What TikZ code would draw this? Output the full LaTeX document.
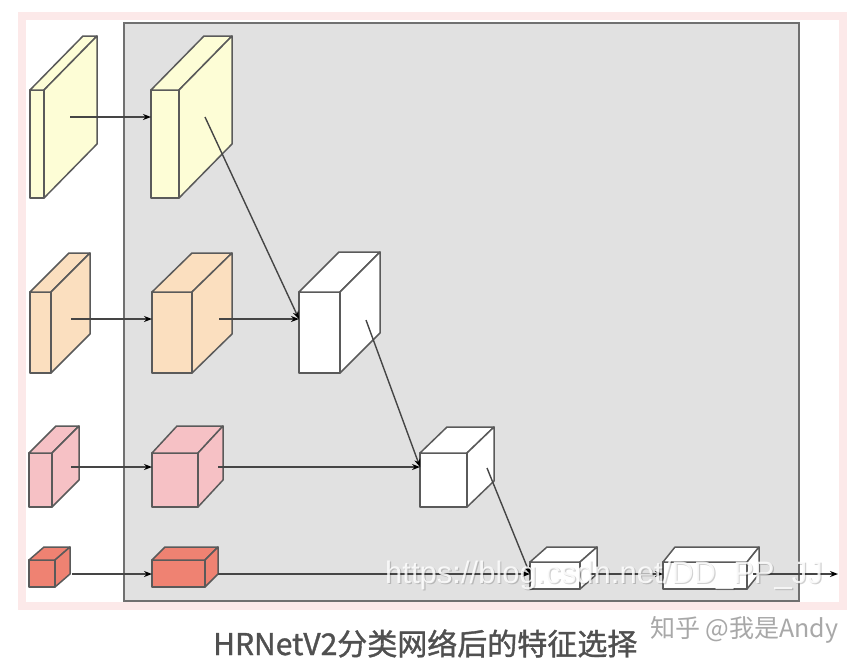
\documentclass[tikz,border=0pt]{standalone}
\usepackage{fontspec}
\usetikzlibrary{arrows.meta}
\newfontfamily\cjkfont{Noto Sans CJK SC}
\newfontfamily\cjkbold[FakeBold=1.2]{Noto Sans CJK SC}
\newfontfamily\wmfont{Liberation Sans}
\definecolor{cyel}{HTML}{FDFDD6}
\definecolor{corg}{HTML}{FBDFBF}
\definecolor{cpnk}{HTML}{F6C1C5}
\definecolor{cred}{HTML}{EF8272}
\definecolor{bggray}{HTML}{E1E1E1}
\definecolor{bgline}{HTML}{707070}
\definecolor{cubeedge}{HTML}{5A5A5A}
\definecolor{linegray}{HTML}{454545}
\definecolor{framepink}{HTML}{FCE9E9}
\definecolor{capgray}{HTML}{505050}
\definecolor{zhgray}{HTML}{A8A8A8}
\newcommand\fmcube[8]{%
  \node[cubeface, fill=#8, minimum width=#4pt, minimum height=#5pt, anchor=north west] (#1) at (#2,#3) {};
  \draw[cubeline, fill=#8] (#1.north west) -- ++(#6,-#7) -- ++(#4,0) -- (#1.north east) -- cycle;
  \draw[cubeline, fill=#8] (#1.north east) -- ++(#6,-#7) -- ++(0,#5) -- (#1.south east) -- cycle;
}
\begin{document}
\begin{tikzpicture}[x=1pt,y=-1pt,
  cubeface/.style={draw=cubeedge, line width=1.5pt, line join=round, inner sep=0pt, outer sep=0pt, rectangle},
  cubeline/.style={draw=cubeedge, line width=1.5pt, line join=round},
  arrowline/.style={draw=linegray, line width=1.4pt, -{Stealth[length=8pt,width=6pt,color=black]}}]
\useasboundingbox[fill=white] (0,0) rectangle (864,665);
% frame and background
\draw[framepink, line width=8pt] (22,16) rectangle (843,606);
\draw[draw=bgline, fill=bggray, line width=1.5pt] (124,23) rectangle (799,601);
% cubes
\fmcube{y1}{30}{90}{14}{108}{53}{54}{cyel}
\fmcube{y2}{151}{90}{28}{108}{53}{54}{cyel}
\fmcube{o1}{30}{292}{21}{81}{39}{39}{corg}
\fmcube{o2}{152}{292}{40}{81}{40}{39}{corg}
\fmcube{w2}{299}{292}{41}{81}{40}{40}{white}
\fmcube{p1}{29}{453}{23}{54}{27}{27}{cpnk}
\fmcube{p2}{152}{453}{46}{54}{25}{27}{cpnk}
\fmcube{w3}{420}{453}{47}{54}{27}{26}{white}
\fmcube{r1}{29}{560}{26}{27}{15}{13}{cred}
\fmcube{r2}{152}{560}{53}{27}{13}{13}{cred}
\fmcube{w4a}{530}{562}{50}{27}{17}{15}{white}
\fmcube{w4b}{663}{562}{84}{27}{12}{15}{white}
% connector start points
\coordinate (y1o) at (70,117);
\coordinate (y2o) at (205,117);
\coordinate (o1o) at (71,319);
\coordinate (o2o) at (219,319);
\coordinate (w2o) at (366,320);
\coordinate (p1o) at (71,467);
\coordinate (p2o) at (218,467);
\coordinate (w3o) at (487,468);
\coordinate (r1o) at (72,574);
\coordinate (r2o) at (218,574);
\coordinate (w4ao) at (590,574);
\coordinate (w4bo) at (753,574);
\coordinate (endp) at (838,574);
% connectors
\draw[arrowline] (y1o) -- (y2.west |- y1o);
\draw[arrowline] (y2o) -- (w2.west |- o2o);
\draw[arrowline] (o1o) -- (o2.west |- o1o);
\draw[arrowline] (o2o) -- (w2.west |- o2o);
\draw[arrowline] (w2o) -- (w3.west |- p2o);
\draw[arrowline] (p1o) -- (p2.west |- p1o);
\draw[arrowline] (p2o) -- (w3.west |- p2o);
\draw[arrowline] (w3o) -- (w4a.west |- r2o);
\draw[arrowline] (r1o) -- (r2.west |- r1o);
\draw[arrowline] (r2o) -- (w4a.west |- r2o);
\draw[arrowline] (w4ao) -- (w4b.west |- w4ao);
\draw[arrowline] (w4bo) -- (endp);
% watermark (faint shadow, then white text)
\node[anchor=base west, inner sep=0pt, text=black, text opacity=0.18, font=\wmfont\fontsize{31}{36}\selectfont] (wms) at (386.2,584.2) {https://blog.csdn.net/DD\_PP\_JJ};
\node[anchor=base west, inner sep=0pt, text=white, text opacity=0.85, font=\wmfont\fontsize{31}{36}\selectfont] (wm) at (385,583) {https://blog.csdn.net/DD\_PP\_JJ};
% captions
\node[anchor=base west, inner sep=0pt, text=capgray, font=\cjkbold\fontsize{30}{36}\selectfont] (cap) at (213,655) {HRNetV2分类网络后的特征选择};
\node[anchor=base west, inner sep=0pt, text=zhgray, font=\cjkfont\fontsize{25}{30}\selectfont] (zh) at (650,637) {知乎 @我是Andy};
\end{tikzpicture}
\end{document}
